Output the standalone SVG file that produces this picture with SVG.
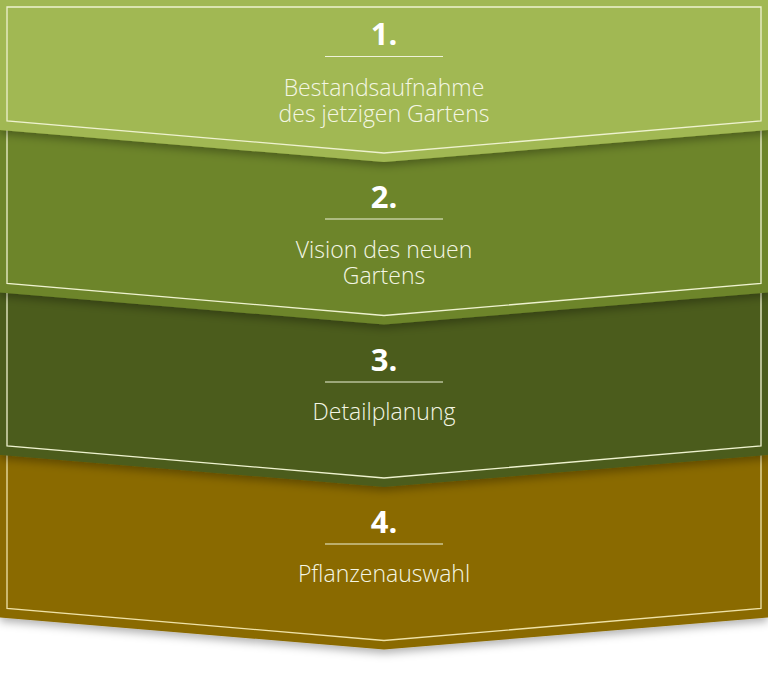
<svg xmlns="http://www.w3.org/2000/svg" width="768" height="684" viewBox="0 0 768 684">
  <defs>
    <filter id="sh" x="-5%" y="-10%" width="110%" height="130%">
      <feDropShadow dx="0" dy="4" stdDeviation="4" flood-color="#000" flood-opacity="0.3"/>
    </filter>
    <style>
      .brd { fill: none; stroke: #eef2cf; stroke-width: 1.3; }
      .brd4 { fill: none; stroke: #efe2a8; stroke-width: 1.3; }
      .num { font-family: "Open Sans", "Liberation Sans", sans-serif; font-weight: 700; font-size: 31px; fill: #ffffff; text-anchor: middle; }
      .lbl { font-family: "Open Sans", "Liberation Sans", sans-serif; font-weight: 300; font-size: 23px; fill: #f4f6e4; text-anchor: middle; }
      .rule { stroke: #eef2d8; stroke-width: 1.2; }
    </style>
  </defs>
  <rect width="768" height="684" fill="#ffffff"/>

  <g id="step4">
    <polygon points="0,435 768,435 768,617.5 384,649.5 0,617.5" fill="#8a6a00" filter="url(#sh)"/>
    <path class="brd4" d="M7,440 V608.5 L384,640.5 L761,608.5 V440"/>
    <text class="num" x="384" y="533">4.</text>
    <line class="rule" x1="325" y1="544" x2="443" y2="544"/>
    <text class="lbl" x="384" y="582">Pflanzenauswahl</text>
  </g>

  <g id="step3">
    <polygon points="0,272 768,272 768,455 384,487 0,455" fill="#4b5b1c" filter="url(#sh)"/>
    <path class="brd" d="M7,278 V446 L384,478 L761,446 V278"/>
    <text class="num" x="384" y="371">3.</text>
    <line class="rule" x1="325" y1="382" x2="443" y2="382"/>
    <text class="lbl" x="384" y="420">Detailplanung</text>
  </g>

  <g id="step2">
    <polygon points="0,110 768,110 768,292.5 384,324.5 0,292.5" fill="#6d852b" filter="url(#sh)"/>
    <path class="brd" d="M7,115 V283.5 L384,315.5 L761,283.5 V115"/>
    <text class="num" x="384" y="208">2.</text>
    <line class="rule" x1="325" y1="219" x2="443" y2="219"/>
    <text class="lbl" x="384" y="257.5">Vision des neuen<tspan x="384" dy="26">Gartens</tspan></text>
  </g>

  <g id="step1">
    <polygon points="0,0 768,0 768,130 384,162 0,130" fill="#a1b853" filter="url(#sh)"/>
    <path class="brd" d="M7,7 H761 V121 L384,153 L7,121 Z"/>
    <text class="num" x="384" y="45">1.</text>
    <line class="rule" x1="325" y1="56.5" x2="443" y2="56.5"/>
    <text class="lbl" x="384" y="95.5">Bestandsaufnahme<tspan x="384" dy="26">des jetzigen Gartens</tspan></text>
  </g>

  <g id="connectors"></g>
</svg>
